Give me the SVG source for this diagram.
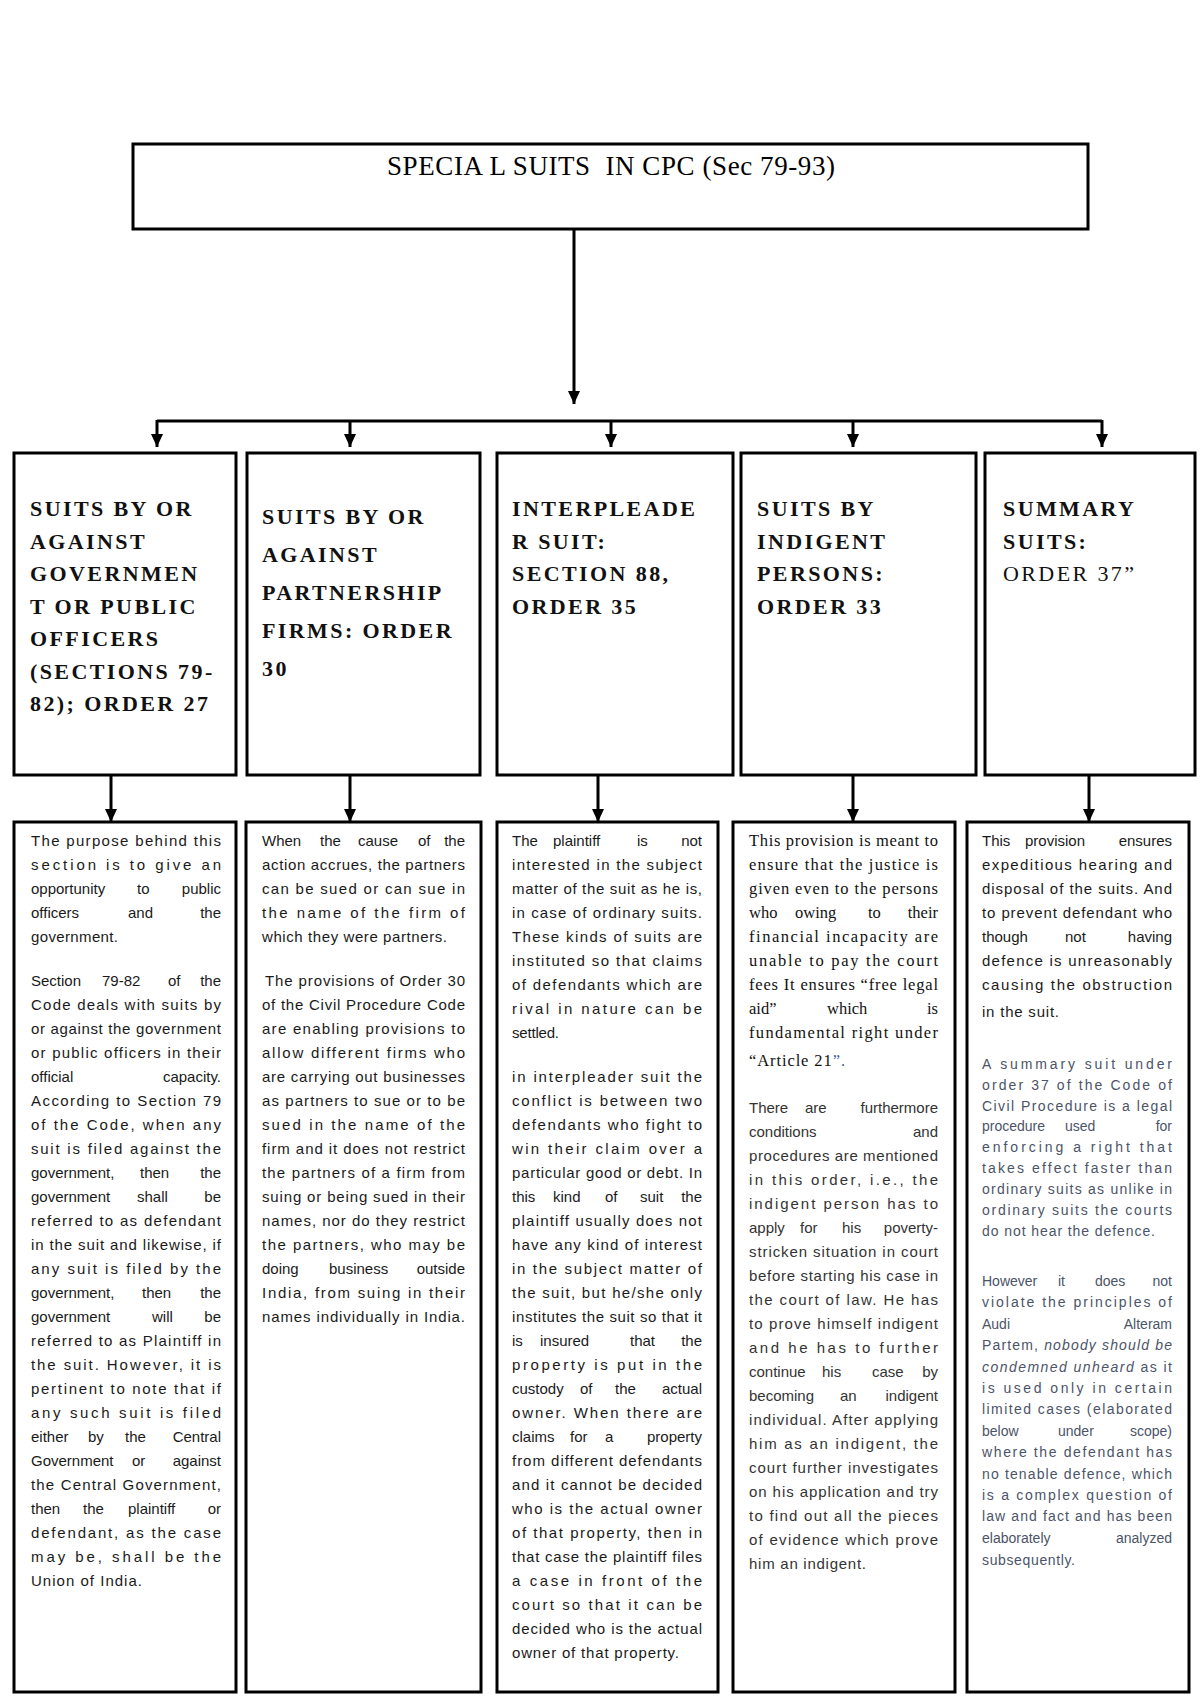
<svg xmlns="http://www.w3.org/2000/svg" width="1200" height="1696" viewBox="0 0 1200 1696">
<style>
.box{fill:#fff;stroke:#000;stroke-width:3}
.con{stroke:#000;stroke-width:3;fill:none}
.title{font-family:"Liberation Serif","Times New Roman",serif;font-size:27px;fill:#000}
.h{font-family:"Liberation Serif","Times New Roman",serif;font-weight:bold;font-size:22px;letter-spacing:2.4px;fill:#111}
.hn{font-weight:normal}
.t{font-family:"Liberation Sans",Arial,sans-serif;font-size:15px;fill:#1a1a1a}
.e{text-anchor:end}
.s{font-family:"Liberation Serif","Times New Roman",serif;font-size:16.5px;fill:#111}
.d{fill:#333}
.g{font-family:"Liberation Sans",Arial,sans-serif;font-size:14px;fill:#4b5468}
.i{font-style:italic}
</style>
<defs>
<marker id="arr" markerUnits="userSpaceOnUse" markerWidth="14" markerHeight="14" refX="13" refY="6" orient="auto">
<path d="M0,0 L13,6 L0,12 z" fill="#000"/>
</marker>
</defs>

<g id="connectors">
<line class="con" x1="574" y1="229" x2="574" y2="404" marker-end="url(#arr)"/>
<path class="con" d="M157,421 H1102"/>
<line class="con" x1="157" y1="420" x2="157" y2="447" marker-end="url(#arr)"/>
<line class="con" x1="350" y1="421" x2="350" y2="447" marker-end="url(#arr)"/>
<line class="con" x1="611" y1="421" x2="611" y2="447" marker-end="url(#arr)"/>
<line class="con" x1="853" y1="421" x2="853" y2="447" marker-end="url(#arr)"/>
<line class="con" x1="1102" y1="420" x2="1102" y2="447" marker-end="url(#arr)"/>
<line class="con" x1="111" y1="775" x2="111" y2="822" marker-end="url(#arr)"/>
<line class="con" x1="350" y1="775" x2="350" y2="822" marker-end="url(#arr)"/>
<line class="con" x1="598" y1="775" x2="598" y2="822" marker-end="url(#arr)"/>
<line class="con" x1="853" y1="775" x2="853" y2="822" marker-end="url(#arr)"/>
<line class="con" x1="1089" y1="775" x2="1089" y2="822" marker-end="url(#arr)"/>
</g>

<g id="node-title">
<rect class="box" x="133" y="144" width="955" height="85"/>
<text class="title" x="387" y="175" textLength="448" xml:space="preserve">SPECIA L SUITS  IN CPC (Sec 79-93)</text>
</g>

<g id="node-h1">
<rect class="box" x="14" y="453" width="222" height="322"/>
<text class="h" x="30" y="516">SUITS BY OR</text>
<text class="h" x="30" y="548.5">AGAINST</text>
<text class="h" x="30" y="581">GOVERNMEN</text>
<text class="h" x="30" y="613.5">T OR PUBLIC</text>
<text class="h" x="30" y="646">OFFICERS</text>
<text class="h" x="30" y="678.5">(SECTIONS 79-</text>
<text class="h" x="30" y="711">82); ORDER 27</text>
</g>

<g id="node-h2">
<rect class="box" x="247" y="453" width="233" height="322"/>
<text class="h" x="262" y="524">SUITS BY OR</text>
<text class="h" x="262" y="562">AGAINST</text>
<text class="h" x="262" y="600">PARTNERSHIP</text>
<text class="h" x="262" y="638">FIRMS: ORDER</text>
<text class="h" x="262" y="676">30</text>
</g>

<g id="node-h3">
<rect class="box" x="497" y="453" width="236" height="322"/>
<text class="h" x="512" y="516">INTERPLEADE</text>
<text class="h" x="512" y="548.5">R SUIT:</text>
<text class="h" x="512" y="581">SECTION 88,</text>
<text class="h" x="512" y="613.5">ORDER 35</text>
</g>

<g id="node-h4">
<rect class="box" x="741" y="453" width="235" height="322"/>
<text class="h" x="757" y="516">SUITS BY</text>
<text class="h" x="757" y="548.5">INDIGENT</text>
<text class="h" x="757" y="581">PERSONS:</text>
<text class="h" x="757" y="613.5">ORDER 33</text>
</g>

<g id="node-h5">
<rect class="box" x="985" y="453" width="210" height="322"/>
<text class="h" x="1003" y="516">SUMMARY</text>
<text class="h" x="1003" y="548.5">SUITS:</text>
<text class="h hn" x="1003" y="581">ORDER 37”</text>
</g>

<g id="node-d1">
<rect class="box" x="14" y="822" width="222" height="870"/>
<text class="t" x="31" y="846" textLength="190">The purpose behind this</text>
<text class="t" x="31" y="870" textLength="190">section is to give an</text>
<text class="t" y="894"><tspan x="31">opportunity</tspan><tspan x="137">to</tspan></text><text class="t e" x="221" y="894">public</text>
<text class="t" y="918"><tspan x="31">officers</tspan><tspan x="128">and</tspan></text><text class="t e" x="221" y="918">the</text>
<text class="t" x="31" y="942" textLength="87">government.</text>
<text class="t" y="986"><tspan x="31">Section</tspan><tspan x="102">79-82</tspan><tspan x="168">of</tspan></text><text class="t e" x="221" y="986">the</text>
<text class="t" x="31" y="1010" textLength="190">Code deals with suits by</text>
<text class="t" x="31" y="1034" textLength="190">or against the government</text>
<text class="t" x="31" y="1058" textLength="190">or public officers in their</text>
<text class="t" x="31" y="1082">official</text><text class="t e" x="221" y="1082">capacity.</text>
<text class="t" x="31" y="1106" textLength="190">According to Section 79</text>
<text class="t" x="31" y="1130" textLength="190">of the Code, when any</text>
<text class="t" x="31" y="1154" textLength="190">suit is filed against the</text>
<text class="t" y="1178"><tspan x="31">government,</tspan><tspan x="140">then</tspan></text><text class="t e" x="221" y="1178">the</text>
<text class="t" y="1202"><tspan x="31">government</tspan><tspan x="137">shall</tspan></text><text class="t e" x="221" y="1202">be</text>
<text class="t" x="31" y="1226" textLength="190">referred to as defendant</text>
<text class="t" x="31" y="1250" textLength="190">in the suit and likewise, if</text>
<text class="t" x="31" y="1274" textLength="190">any suit is filed by the</text>
<text class="t" y="1298"><tspan x="31">government,</tspan><tspan x="142">then</tspan></text><text class="t e" x="221" y="1298">the</text>
<text class="t" y="1322"><tspan x="31">government</tspan><tspan x="152">will</tspan></text><text class="t e" x="221" y="1322">be</text>
<text class="t" x="31" y="1346" textLength="190">referred to as Plaintiff in</text>
<text class="t" x="31" y="1370" textLength="190">the suit. However, it is</text>
<text class="t" x="31" y="1394" textLength="190">pertinent to note that if</text>
<text class="t" x="31" y="1418" textLength="190">any such suit is filed</text>
<text class="t" y="1442"><tspan x="31">either</tspan><tspan x="88">by</tspan><tspan x="125">the</tspan></text><text class="t e" x="221" y="1442">Central</text>
<text class="t" y="1466"><tspan x="31">Government</tspan><tspan x="132">or</tspan></text><text class="t e" x="221" y="1466">against</text>
<text class="t" x="31" y="1490" textLength="190">the Central Government,</text>
<text class="t" y="1514"><tspan x="31">then</tspan><tspan x="83">the</tspan><tspan x="128">plaintiff</tspan></text><text class="t e" x="221" y="1514">or</text>
<text class="t" x="31" y="1538" textLength="190">defendant, as the case</text>
<text class="t" x="31" y="1562" textLength="190">may be, shall be the</text>
<text class="t" x="31" y="1586" textLength="111">Union of India.</text>
</g>

<g id="node-d2">
<rect class="box" x="246" y="822" width="235" height="870"/>
<text class="t" y="846"><tspan x="262">When</tspan><tspan x="320">the</tspan><tspan x="358">cause</tspan><tspan x="418">of</tspan></text><text class="t e" x="465" y="846">the</text>
<text class="t" x="262" y="870" textLength="203">action accrues, the partners</text>
<text class="t" x="262" y="894" textLength="203">can be sued or can sue in</text>
<text class="t" x="262" y="918" textLength="203">the name of the firm of</text>
<text class="t" x="262" y="942" textLength="185">which they were partners.</text>
<text class="t" x="265" y="986" textLength="200">The provisions of Order 30</text>
<text class="t" x="262" y="1010" textLength="203">of the Civil Procedure Code</text>
<text class="t" x="262" y="1034" textLength="203">are enabling provisions to</text>
<text class="t" x="262" y="1058" textLength="203">allow different firms who</text>
<text class="t" x="262" y="1082" textLength="203">are carrying out businesses</text>
<text class="t" x="262" y="1106" textLength="203">as partners to sue or to be</text>
<text class="t" x="262" y="1130" textLength="203">sued in the name of the</text>
<text class="t" x="262" y="1154" textLength="203">firm and it does not restrict</text>
<text class="t" x="262" y="1178" textLength="203">the partners of a firm from</text>
<text class="t" x="262" y="1202" textLength="203">suing or being sued in their</text>
<text class="t" x="262" y="1226" textLength="203">names, nor do they restrict</text>
<text class="t" x="262" y="1250" textLength="203">the partners, who may be</text>
<text class="t" y="1274"><tspan x="262">doing</tspan><tspan x="329">business</tspan></text><text class="t e" x="465" y="1274">outside</text>
<text class="t" x="262" y="1298" textLength="203">India, from suing in their</text>
<text class="t" x="262" y="1322" textLength="203">names individually in India.</text>
</g>

<g id="node-d3">
<rect class="box" x="497" y="822" width="221" height="870"/>
<text class="t" y="846"><tspan x="512">The</tspan><tspan x="553">plaintiff</tspan><tspan x="637">is</tspan></text><text class="t e" x="702" y="846">not</text>
<text class="t" x="512" y="870" textLength="190">interested in the subject</text>
<text class="t" x="512" y="894" textLength="190">matter of the suit as he is,</text>
<text class="t" x="512" y="918" textLength="190">in case of ordinary suits.</text>
<text class="t" x="512" y="942" textLength="190">These kinds of suits are</text>
<text class="t" x="512" y="966" textLength="190">instituted so that claims</text>
<text class="t" x="512" y="990" textLength="190">of defendants which are</text>
<text class="t" x="512" y="1014" textLength="190">rival in nature can be</text>
<text class="t" x="512" y="1038" textLength="47">settled.</text>
<text class="t" x="512" y="1082" textLength="190">in interpleader suit the</text>
<text class="t" x="512" y="1106" textLength="190">conflict is between two</text>
<text class="t" x="512" y="1130" textLength="190">defendants who fight to</text>
<text class="t" x="512" y="1154" textLength="190">win their claim over a</text>
<text class="t" x="512" y="1178" textLength="190">particular good or debt. In</text>
<text class="t" y="1202"><tspan x="512">this</tspan><tspan x="553">kind</tspan><tspan x="605">of</tspan><tspan x="640">suit</tspan></text><text class="t e" x="702" y="1202">the</text>
<text class="t" x="512" y="1226" textLength="190">plaintiff usually does not</text>
<text class="t" x="512" y="1250" textLength="190">have any kind of interest</text>
<text class="t" x="512" y="1274" textLength="190">in the subject matter of</text>
<text class="t" x="512" y="1298" textLength="190">the suit, but he/she only</text>
<text class="t" x="512" y="1322" textLength="190">institutes the suit so that it</text>
<text class="t" y="1346"><tspan x="512">is</tspan><tspan x="540">insured</tspan><tspan x="630">that</tspan></text><text class="t e" x="702" y="1346">the</text>
<text class="t" x="512" y="1370" textLength="190">property is put in the</text>
<text class="t" y="1394"><tspan x="512">custody</tspan><tspan x="580">of</tspan><tspan x="615">the</tspan></text><text class="t e" x="702" y="1394">actual</text>
<text class="t" x="512" y="1418" textLength="190">owner. When there are</text>
<text class="t" y="1442"><tspan x="512">claims</tspan><tspan x="570">for</tspan><tspan x="605">a</tspan></text><text class="t e" x="702" y="1442">property</text>
<text class="t" x="512" y="1466" textLength="190">from different defendants</text>
<text class="t" x="512" y="1490" textLength="190">and it cannot be decided</text>
<text class="t" x="512" y="1514" textLength="190">who is the actual owner</text>
<text class="t" x="512" y="1538" textLength="190">of that property, then in</text>
<text class="t" x="512" y="1562" textLength="190">that case the plaintiff files</text>
<text class="t" x="512" y="1586" textLength="190">a case in front of the</text>
<text class="t" x="512" y="1610" textLength="190">court so that it can be</text>
<text class="t" x="512" y="1634" textLength="190">decided who is the actual</text>
<text class="t" x="512" y="1658" textLength="167">owner of that property.</text>
</g>

<g id="node-d4">
<rect class="box" x="733" y="822" width="222" height="870"/>
<text class="s" x="749" y="846" textLength="189">This provision is meant to</text>
<text class="s" x="749" y="870" textLength="189">ensure that the justice is</text>
<text class="s" x="749" y="894" textLength="189">given even to the persons</text>
<text class="s" y="918"><tspan x="749">who</tspan><tspan x="795">owing</tspan><tspan x="868">to</tspan></text><text class="s e" x="938" y="918">their</text>
<text class="s" x="749" y="942" textLength="189">financial incapacity are</text>
<text class="s" x="749" y="966" textLength="189">unable to pay the court</text>
<text class="s" x="749" y="990" textLength="189">fees It ensures “free legal</text>
<text class="s" y="1014"><tspan x="749">aid”</tspan><tspan x="827">which</tspan></text><text class="s e" x="938" y="1014">is</text>
<text class="s" x="749" y="1038" textLength="189">fundamental right under</text>
<text class="s" x="749" y="1066" textLength="96">“Article 21<tspan fill="#3f5f95">”.</tspan></text>
<text class="t d" y="1113"><tspan x="749">There</tspan><tspan x="805">are</tspan></text><text class="t d e" x="938" y="1113">furthermore</text>
<text class="t d" x="749" y="1137">conditions</text><text class="t d e" x="938" y="1137">and</text>
<text class="t d" x="749" y="1161" textLength="189">procedures are mentioned</text>
<text class="t d" x="749" y="1185" textLength="189">in this order, i.e., the</text>
<text class="t d" x="749" y="1209" textLength="189">indigent person has to</text>
<text class="t d" y="1233"><tspan x="749">apply</tspan><tspan x="800">for</tspan><tspan x="842">his</tspan></text><text class="t d e" x="938" y="1233">poverty-</text>
<text class="t d" x="749" y="1257" textLength="189">stricken situation in court</text>
<text class="t d" x="749" y="1281" textLength="189">before starting his case in</text>
<text class="t d" x="749" y="1305" textLength="189">the court of law. He has</text>
<text class="t d" x="749" y="1329" textLength="189">to prove himself indigent</text>
<text class="t d" x="749" y="1353" textLength="189">and he has to further</text>
<text class="t d" y="1377"><tspan x="749">continue</tspan><tspan x="822">his</tspan><tspan x="872">case</tspan></text><text class="t d e" x="938" y="1377">by</text>
<text class="t d" y="1401"><tspan x="749">becoming</tspan><tspan x="840">an</tspan></text><text class="t d e" x="938" y="1401">indigent</text>
<text class="t d" x="749" y="1425" textLength="189">individual. After applying</text>
<text class="t d" x="749" y="1449" textLength="189">him as an indigent, the</text>
<text class="t d" x="749" y="1473" textLength="189">court further investigates</text>
<text class="t d" x="749" y="1497" textLength="189">on his application and try</text>
<text class="t d" x="749" y="1521" textLength="189">to find out all the pieces</text>
<text class="t d" x="749" y="1545" textLength="189">of evidence which prove</text>
<text class="t d" x="749" y="1569" textLength="117">him an indigent.</text>
</g>

<g id="node-d5">
<rect class="box" x="967" y="822" width="222" height="870"/>
<text class="t" y="846"><tspan x="982">This</tspan><tspan x="1025">provision</tspan></text><text class="t e" x="1172" y="846">ensures</text>
<text class="t" x="982" y="870" textLength="190">expeditious hearing and</text>
<text class="t" x="982" y="894" textLength="190">disposal of the suits. And</text>
<text class="t" x="982" y="918" textLength="190">to prevent defendant who</text>
<text class="t" y="942"><tspan x="982">though</tspan><tspan x="1065">not</tspan></text><text class="t e" x="1172" y="942">having</text>
<text class="t" x="982" y="966" textLength="190">defence is unreasonably</text>
<text class="t" x="982" y="990" textLength="190">causing the obstruction</text>
<text class="t" x="982" y="1017" textLength="77">in the suit.</text>
<text class="g" x="982" y="1069" textLength="190">A summary suit under</text>
<text class="g" x="982" y="1090" textLength="190">order 37 of the Code of</text>
<text class="g" x="982" y="1111" textLength="190">Civil Procedure is a legal</text>
<text class="g" y="1131"><tspan x="982">procedure</tspan><tspan x="1065">used</tspan></text><text class="g e" x="1172" y="1131">for</text>
<text class="g" x="982" y="1152" textLength="190">enforcing a right that</text>
<text class="g" x="982" y="1173" textLength="190">takes effect faster than</text>
<text class="g" x="982" y="1194" textLength="190">ordinary suits as unlike in</text>
<text class="g" x="982" y="1215" textLength="190">ordinary suits the courts</text>
<text class="g" x="982" y="1236" textLength="173">do not hear the defence.</text>
<text class="g" y="1286"><tspan x="982">However</tspan><tspan x="1058">it</tspan><tspan x="1095">does</tspan></text><text class="g e" x="1172" y="1286">not</text>
<text class="g" x="982" y="1307" textLength="190">violate the principles of</text>
<text class="g" x="982" y="1329">Audi</text><text class="g e" x="1172" y="1329">Alteram</text>
<text class="g" x="982" y="1350" textLength="190">Partem, <tspan class="i">nobody should be</tspan></text>
<text class="g" x="982" y="1372" textLength="190"><tspan class="i">condemned unheard</tspan> as it</text>
<text class="g" x="982" y="1393" textLength="190">is used only in certain</text>
<text class="g" x="982" y="1414" textLength="190">limited cases (elaborated</text>
<text class="g" y="1436"><tspan x="982">below</tspan><tspan x="1058">under</tspan></text><text class="g e" x="1172" y="1436">scope)</text>
<text class="g" x="982" y="1457" textLength="190">where the defendant has</text>
<text class="g" x="982" y="1479" textLength="190">no tenable defence, which</text>
<text class="g" x="982" y="1500" textLength="190">is a complex question of</text>
<text class="g" x="982" y="1521" textLength="190">law and fact and has been</text>
<text class="g" x="982" y="1543">elaborately</text><text class="g e" x="1172" y="1543">analyzed</text>
<text class="g" x="982" y="1565" textLength="93">subsequently.</text>
</g>
</svg>
